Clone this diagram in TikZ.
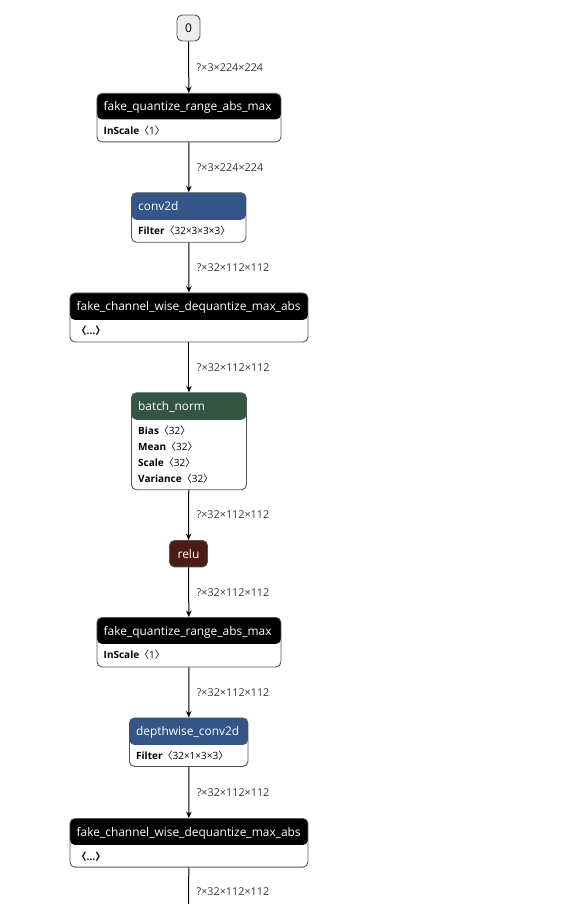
\documentclass[tikz,border=0pt]{standalone}
\usepackage{fontspec}
\setmainfont{Open Sans}
\newfontfamily\cjk{Noto Sans CJK SC}
\usetikzlibrary{arrows.meta}
\definecolor{bordc}{HTML}{555555}
\definecolor{convc}{RGB}{51,85,136}
\definecolor{normc}{RGB}{51,85,68}
\definecolor{actc}{RGB}{75,27,22}
\definecolor{labc}{HTML}{383838}
\newcommand{\myLB}{{\cjk 〈}}
\newcommand{\myRB}{{\cjk 〉}}
\tikzset{
  box/.style 2 args={draw=bordc, line width=0.9pt, rounded corners=5pt, fill=white,
    inner sep=0pt, anchor=north west,
    path picture={\fill[#1] (path picture bounding box.north west) rectangle ([yshift=-#2]path picture bounding box.north east);}},
  ttl/.style={font=\fontsize{11.9}{14}\selectfont, text=white, anchor=base west, inner sep=0pt},
  attr/.style={font=\fontsize{10}{12}\selectfont, text=black, anchor=base west, inner sep=0pt},
  elab/.style={font=\fontsize{10.8}{12}\selectfont, text=labc, anchor=west, inner sep=0pt, xshift=7.5pt},
  edge/.style={draw=black, line width=1pt, -{Stealth[length=6.5pt,width=5.5pt]}},
}
\begin{document}
\begin{tikzpicture}[x=1pt,y=-1pt]
\useasboundingbox (0,0) rectangle (560,904);
% input node
\node[draw=bordc, line width=0.9pt, fill=black!7, rounded corners=5pt, minimum width=23pt, minimum height=26pt, inner sep=0pt, font=\fontsize{12}{14}\selectfont] (n0) at (188.5,28) {0};
% boxes
\node[box={black}{26pt}, minimum width=184pt, minimum height=48.5pt] (fq1) at (96.5,93) {};
\node[ttl] at ([xshift=7pt,yshift=-18pt]fq1.north west) {fake\_quantize\_range\_abs\_max};
\node[attr] at ([xshift=7pt,yshift=-41.5pt]fq1.north west) {\textbf{InScale}\myLB 1\myRB};

\node[box={convc}{27pt}, minimum width=114.5pt, minimum height=49.5pt] (cv) at (131,192.3) {};
\node[ttl] at ([xshift=7pt,yshift=-18pt]cv.north west) {conv2d};
\node[attr] at ([xshift=7pt,yshift=-42pt]cv.north west) {\textbf{Filter}\myLB 32×3×3×3\myRB};

\node[box={black}{27pt}, minimum width=238pt, minimum height=49pt] (fc1) at (69.5,292.5) {};
\node[ttl] at ([xshift=7pt,yshift=-18pt]fc1.north west) {fake\_channel\_wise\_dequantize\_max\_abs};
\node[attr] at ([xshift=7pt,yshift=-42pt]fc1.north west) {\textbf{\myLB ...\myRB}};

\node[box={normc}{27pt}, minimum width=115pt, minimum height=97pt] (bn) at (131,392.3) {};
\node[ttl] at ([xshift=7pt,yshift=-18pt]bn.north west) {batch\_norm};
\node[attr] at ([xshift=7pt,yshift=-42pt]bn.north west) {\textbf{Bias}\myLB 32\myRB};
\node[attr] at ([xshift=7pt,yshift=-57.9pt]bn.north west) {\textbf{Mean}\myLB 32\myRB};
\node[attr] at ([xshift=7pt,yshift=-73.8pt]bn.north west) {\textbf{Scale}\myLB 32\myRB};
\node[attr] at ([xshift=7pt,yshift=-89.7pt]bn.north west) {\textbf{Variance}\myLB 32\myRB};

\node[draw=bordc, line width=0.9pt, fill=actc, rounded corners=5pt, minimum width=38pt, minimum height=26.5pt, inner sep=0pt, text=white, font=\fontsize{12}{14}\selectfont] (relu) at (188.5,553.7) {relu};

\node[box={black}{26.5pt}, minimum width=184pt, minimum height=49.5pt] (fq2) at (96.5,617) {};
\node[ttl] at ([xshift=7pt,yshift=-18pt]fq2.north west) {fake\_quantize\_range\_abs\_max};
\node[attr] at ([xshift=7pt,yshift=-41.5pt]fq2.north west) {\textbf{InScale}\myLB 1\myRB};

\node[box={convc}{27pt}, minimum width=118.5pt, minimum height=48.5pt] (dw) at (129,717.5) {};
\node[ttl] at ([xshift=7pt,yshift=-18pt]dw.north west) {depthwise\_conv2d};
\node[attr] at ([xshift=7pt,yshift=-42pt]dw.north west) {\textbf{Filter}\myLB 32×1×3×3\myRB};

\node[box={black}{26.5pt}, minimum width=238pt, minimum height=48.7pt] (fc2) at (69.5,818) {};
\node[ttl] at ([xshift=7pt,yshift=-18pt]fc2.north west) {fake\_channel\_wise\_dequantize\_max\_abs};
\node[attr] at ([xshift=7pt,yshift=-42pt]fc2.north west) {\textbf{\myLB ...\myRB}};

\coordinate (out) at (188.5,916);
% edges
\draw[edge] (n0) -- node[elab]{?×3×224×224} (fq1);
\draw[edge] (fq1) -- node[elab]{?×3×224×224} (cv);
\draw[edge] (cv) -- node[elab]{?×32×112×112} (fc1);
\draw[edge] (fc1) -- node[elab]{?×32×112×112} (bn);
\draw[edge] (bn) -- node[elab]{?×32×112×112} (relu);
\draw[edge] (relu) -- node[elab]{?×32×112×112} (fq2);
\draw[edge] (fq2) -- node[elab]{?×32×112×112} (dw);
\draw[edge] (dw) -- node[elab]{?×32×112×112} (fc2);
\draw[draw=black, line width=1pt] (fc2) -- node[elab, pos=0.5]{?×32×112×112} (out);
\end{tikzpicture}
\end{document}
